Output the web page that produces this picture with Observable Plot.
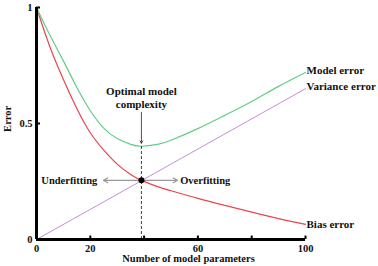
<!DOCTYPE html>
<html><head><meta charset="utf-8">
<script src="https://cdn.jsdelivr.net/npm/d3@7"></script>
<script src="https://cdn.jsdelivr.net/npm/@observablehq/plot@0.6"></script>
<style>body{margin:0;background:#fff}</style>
</head><body><div id="chart"></div>
<script>
const params = [0, 5, 10, 15, 20, 25, 30, 35, 39, 45, 50, 60, 70, 80, 90, 100];
const biasError = [1.0, 0.83, 0.69, 0.565, 0.46, 0.385, 0.325, 0.28, 0.255, 0.228, 0.21, 0.177, 0.147, 0.118, 0.09, 0.065];
const modelError = [1.0, 0.88, 0.77, 0.655, 0.555, 0.48, 0.435, 0.41, 0.402, 0.41, 0.428, 0.478, 0.535, 0.595, 0.66, 0.72];
const varianceEnds = [0, 100];
const varianceValues = [0, 0.65];
const xTicks = [0, 20, 40, 60, 80, 100];
const xLabels = ["0", "20", "", "60", "", "100"];
const yTicks = [0, 0.5, 1];
const yLabels = ["0", "0.5", "1"];
const optimalX = 39;
const crossY = 0.255;
const seriesLabels = ["Model error", "Variance error", "Bias error"];
const xTitle = "Number of model parameters";
const yTitle = "Error";

const bias = params.map((x, i) => ({x, y: biasError[i]}));
const model = params.map((x, i) => ({x, y: modelError[i]}));
const variance = varianceEnds.map((x, i) => ({x, y: varianceValues[i]}));
const font = "'Liberation Serif', 'Times New Roman', serif";

const chart = Plot.plot({
  width: 378, height: 266,
  marginLeft: 36, marginRight: 73, marginTop: 7, marginBottom: 27,
  style: {fontFamily: font, fontSize: "10px", fontWeight: "bold", color: "#111"},
  x: {domain: [0, 100]},
  y: {domain: [0, 1]},
  marks: [
    Plot.line(variance, {x: "x", y: "y", stroke: "#c68fd9", strokeWidth: 1}),
    Plot.line(bias, {x: "x", y: "y", stroke: "#e8464f", strokeWidth: 1.2, curve: "natural"}),
    Plot.line(model, {x: "x", y: "y", stroke: "#62cc88", strokeWidth: 1.2, curve: "natural"}),
    Plot.ruleX([optimalX], {y1: 0, y2: modelError[8], stroke: "#111", strokeWidth: 0.8, strokeDasharray: "3,2"}),
    Plot.arrow([{}], {x1: optimalX, y1: 0.548, x2: optimalX, y2: 0.415, stroke: "#222", strokeWidth: 0.8, headLength: 5}),
    Plot.arrow([{}], {x1: optimalX, y1: crossY, x2: 24.9, y2: crossY, stroke: "#999", strokeWidth: 1.2, headLength: 6}),
    Plot.arrow([{}], {x1: optimalX, y1: crossY, x2: 52.4, y2: crossY, stroke: "#999", strokeWidth: 1.2, headLength: 6}),
    Plot.dot([{}], {x: optimalX, y: crossY, r: 3, fill: "#000"}),
    Plot.text(["Optimal model", "complexity"], {x: optimalX, y: [0.637, 0.584], text: d => d, fill: "#111", fontSize: 11}),
    Plot.text(["Underfitting"], {x: 22.6, y: crossY, textAnchor: "end", fill: "#111", fontSize: 10.5}),
    Plot.text(["Overfitting"], {x: 53.4, y: crossY, textAnchor: "start", fill: "#111", fontSize: 10.5}),
    Plot.text(seriesLabels, {x: 100, y: [modelError[15] + 0.01, varianceValues[1] + 0.01, biasError[15]], dx: 1, textAnchor: "start", fill: "#111", fontSize: 11}),
    Plot.ruleY([0], {stroke: "#000", strokeWidth: 3}),
    Plot.ruleX([0], {stroke: "#000", strokeWidth: 3}),
    Plot.ruleX(xTicks, {x: d => d, y1: 0, y2: 0.015, stroke: "#000", strokeWidth: 2}),
    Plot.ruleY(yTicks, {y: d => d, x1: 0, x2: 1.5, stroke: "#000", strokeWidth: 2}),
    Plot.axisX({ticks: xTicks, tickFormat: (d, i) => xLabels[i], tickSize: 0, tickPadding: 5, label: null, fontSize: 10.5}),
    Plot.text([xTitle], {x: 56.5, y: 0, dy: 19, frameAnchor: "middle", fill: "#111", fontSize: 10.5}),
    Plot.axisY({ticks: yTicks, tickFormat: (d, i) => yLabels[i], tickSize: 0, tickPadding: 4, label: null, fontSize: 10.5}),
    Plot.text([yTitle], {x: 0, y: 0.52, dx: -29, rotate: -90, fill: "#111", fontSize: 10.5})
  ]
});
document.getElementById("chart").append(chart);
</script>
</body></html>
